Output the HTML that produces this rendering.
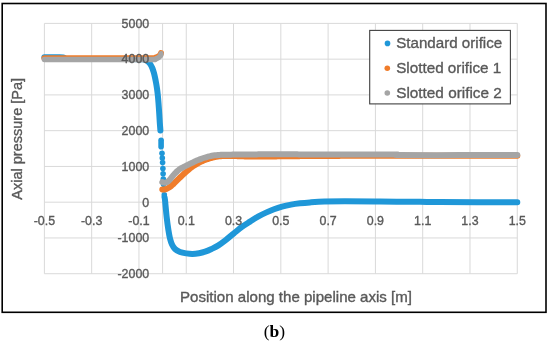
<!DOCTYPE html>
<html><head><meta charset="utf-8"><style>
html,body{margin:0;padding:0;background:#fff;}
svg{display:block;}
text{font-family:"Liberation Sans",Arial,sans-serif;}
.t{stroke:#595959;stroke-width:0.35px;}
</style></head><body>
<svg width="550" height="344" viewBox="0 0 550 344">
<rect x="0" y="0" width="550" height="344" fill="#fff"/>
<rect x="2.2" y="3.5" width="543.8" height="308.8" fill="#fff" stroke="#000" stroke-width="1.6"/>
<g stroke="#d9d9d9" stroke-width="1">
<line x1="44.38" y1="23.40" x2="44.38" y2="273.72"/>
<line x1="91.67" y1="23.40" x2="91.67" y2="273.72"/>
<line x1="138.96" y1="23.40" x2="138.96" y2="273.72"/>
<line x1="186.25" y1="23.40" x2="186.25" y2="273.72"/>
<line x1="233.53" y1="23.40" x2="233.53" y2="273.72"/>
<line x1="280.82" y1="23.40" x2="280.82" y2="273.72"/>
<line x1="328.12" y1="23.40" x2="328.12" y2="273.72"/>
<line x1="375.41" y1="23.40" x2="375.41" y2="273.72"/>
<line x1="422.70" y1="23.40" x2="422.70" y2="273.72"/>
<line x1="469.99" y1="23.40" x2="469.99" y2="273.72"/>
<line x1="517.27" y1="23.40" x2="517.27" y2="273.72"/>
<line x1="44.38" y1="23.40" x2="517.27" y2="23.40"/>
<line x1="44.38" y1="59.16" x2="517.27" y2="59.16"/>
<line x1="44.38" y1="94.92" x2="517.27" y2="94.92"/>
<line x1="44.38" y1="130.68" x2="517.27" y2="130.68"/>
<line x1="44.38" y1="166.44" x2="517.27" y2="166.44"/>
<line x1="44.38" y1="202.20" x2="517.27" y2="202.20"/>
<line x1="44.38" y1="237.96" x2="517.27" y2="237.96"/>
<line x1="44.38" y1="273.72" x2="517.27" y2="273.72"/>
<line x1="162.60" y1="23.40" x2="162.60" y2="273.72"/>
</g>
<g>
<path d="M44.38 57.30 C46.35 57.30 53.04 57.28 56.20 57.30 C59.35 57.32 61.32 57.16 63.29 57.44 C65.26 57.72 63.29 58.71 68.02 58.98 C72.75 59.25 81.81 59.04 91.67 59.05 C101.52 59.06 118.86 59.03 127.13 59.05 C135.41 59.07 138.42 59.07 141.32 59.16 C144.21 59.25 143.64 59.38 144.50 59.60 C145.36 59.82 145.82 60.08 146.50 60.50 C147.18 60.92 147.93 61.43 148.60 62.10 C149.27 62.77 149.88 63.52 150.50 64.50 C151.12 65.48 151.77 66.72 152.30 68.00 C152.83 69.28 153.27 70.70 153.70 72.20 C154.13 73.70 154.52 75.28 154.90 77.00 C155.28 78.72 155.65 80.58 156.00 82.50 C156.35 84.42 156.70 86.42 157.00 88.50 C157.30 90.58 157.55 92.58 157.80 95.00 C158.05 97.42 158.27 100.00 158.50 103.00 C158.73 106.00 158.98 109.72 159.20 113.00 C159.42 116.28 159.60 119.78 159.80 122.70 C160.00 125.62 160.30 129.20 160.40 130.50" fill="none" stroke="#1f97d8" stroke-width="6.00" stroke-linecap="round" stroke-linejoin="round"/>
<path d="M164.50 197.00 C164.58 197.50 164.63 196.60 165.00 200.00 C165.37 203.40 166.13 212.40 166.70 217.40 C167.27 222.40 167.85 226.48 168.40 230.00 C168.95 233.52 169.40 236.08 170.00 238.50 C170.60 240.92 171.17 242.75 172.00 244.50 C172.83 246.25 173.67 247.75 175.00 249.00 C176.33 250.25 178.10 251.27 180.00 252.00 C181.90 252.73 184.32 253.08 186.40 253.40 C188.48 253.72 190.40 253.93 192.50 253.90 C194.60 253.87 196.90 253.57 199.00 253.20 C201.10 252.83 203.02 252.40 205.10 251.70 C207.18 251.00 209.35 250.02 211.50 249.00 C213.65 247.98 215.58 247.13 218.00 245.60 C220.42 244.07 223.35 241.85 226.00 239.80 C228.65 237.75 231.23 235.47 233.90 233.30 C236.57 231.13 239.32 228.75 242.00 226.80 C244.68 224.85 247.33 223.30 250.00 221.60 C252.67 219.90 255.33 218.10 258.00 216.60 C260.67 215.10 263.33 213.83 266.00 212.60 C268.67 211.37 271.33 210.20 274.00 209.20 C276.67 208.20 279.17 207.37 282.00 206.60 C284.83 205.83 288.00 205.15 291.00 204.60 C294.00 204.05 296.83 203.67 300.00 203.30 C303.17 202.93 305.92 202.68 310.00 202.40 C314.08 202.12 318.67 201.78 324.50 201.60 C330.33 201.42 335.75 201.30 345.00 201.30 C354.25 201.30 367.50 201.52 380.00 201.60 C392.50 201.68 410.00 201.72 420.00 201.80 C430.00 201.88 423.78 202.03 440.00 202.10 C456.22 202.17 504.42 202.18 517.30 202.20" fill="none" stroke="#1f97d8" stroke-width="6.00" stroke-linecap="round" stroke-linejoin="round"/>
<line x1="161.10" y1="140.35" x2="161.10" y2="146.65" stroke="#1f97d8" stroke-width="5.6" stroke-linecap="round"/>
<line x1="162.00" y1="153.30" x2="162.00" y2="153.30" stroke="#1f97d8" stroke-width="5.6" stroke-linecap="round"/>
<line x1="162.30" y1="158.00" x2="162.30" y2="158.00" stroke="#1f97d8" stroke-width="5.6" stroke-linecap="round"/>
<line x1="162.60" y1="162.60" x2="162.60" y2="162.60" stroke="#1f97d8" stroke-width="5.6" stroke-linecap="round"/>
<line x1="162.90" y1="168.60" x2="162.90" y2="168.60" stroke="#1f97d8" stroke-width="5.6" stroke-linecap="round"/>
<line x1="163.10" y1="173.80" x2="163.10" y2="173.80" stroke="#1f97d8" stroke-width="5.6" stroke-linecap="round"/>
<line x1="163.30" y1="179.10" x2="163.30" y2="179.10" stroke="#1f97d8" stroke-width="5.6" stroke-linecap="round"/>
<line x1="163.60" y1="184.30" x2="163.60" y2="184.30" stroke="#1f97d8" stroke-width="5.6" stroke-linecap="round"/>
<line x1="163.90" y1="189.50" x2="163.90" y2="189.50" stroke="#1f97d8" stroke-width="5.6" stroke-linecap="round"/>
<line x1="164.30" y1="194.70" x2="164.30" y2="194.70" stroke="#1f97d8" stroke-width="5.6" stroke-linecap="round"/>
<path d="M44.38 58.37 C56.20 58.37 97.38 58.37 115.31 58.37 C133.24 58.37 145.46 58.41 151.96 58.37 C158.46 58.34 153.54 58.33 154.32 58.16 C155.11 57.99 155.98 57.68 156.69 57.37 C157.40 57.06 158.07 56.63 158.58 56.30 C159.09 55.97 159.45 55.73 159.76 55.41 C160.08 55.08 160.27 54.71 160.47 54.33 C160.67 53.96 160.87 53.35 160.94 53.15" fill="none" stroke="#f07c2a" stroke-width="6.00" stroke-linecap="round" stroke-linejoin="round"/>
<path d="M162.30 189.40 C162.55 189.41 163.30 189.52 163.80 189.50 C164.30 189.48 164.80 189.39 165.30 189.27 C165.80 189.15 166.30 188.97 166.80 188.75 C167.30 188.54 167.80 188.27 168.30 187.98 C168.80 187.68 169.30 187.35 169.80 186.99 C170.30 186.63 170.80 186.24 171.30 185.83 C171.80 185.42 172.30 184.98 172.80 184.53 C173.30 184.08 173.80 183.60 174.30 183.13 C174.80 182.65 175.30 182.16 175.80 181.66 C176.30 181.17 176.80 180.68 177.30 180.18 C177.80 179.69 178.30 179.19 178.80 178.71 C179.30 178.22 179.80 177.73 180.30 177.24 C180.80 176.76 181.30 176.28 181.80 175.80 C182.30 175.33 182.80 174.86 183.30 174.39 C183.80 173.92 184.30 173.46 184.80 173.01 C185.30 172.56 185.80 172.11 186.30 171.68 C186.80 171.24 187.30 170.81 187.80 170.39 C188.30 169.97 188.80 169.55 189.30 169.15 C189.80 168.75 190.30 168.36 190.80 167.98 C191.30 167.60 191.80 167.23 192.30 166.88 C192.80 166.52 193.30 166.18 193.80 165.84 C194.30 165.51 194.80 165.18 195.30 164.87 C195.80 164.56 196.30 164.26 196.80 163.97 C197.30 163.67 197.80 163.39 198.30 163.12 C198.80 162.85 199.30 162.58 199.80 162.33 C200.30 162.08 200.80 161.83 201.30 161.60 C201.80 161.36 202.30 161.13 202.80 160.91 C203.30 160.69 203.80 160.48 204.30 160.28 C204.80 160.07 205.30 159.88 205.80 159.69 C206.30 159.50 206.80 159.32 207.30 159.14 C207.80 158.96 208.30 158.80 208.80 158.63 C209.30 158.47 209.80 158.31 210.30 158.17 C210.80 158.02 211.30 157.88 211.80 157.74 C212.30 157.61 212.80 157.48 213.30 157.36 C213.80 157.24 214.30 157.13 214.80 157.02 C215.30 156.92 215.80 156.82 216.30 156.74 C216.80 156.65 217.30 156.57 217.80 156.50 C218.30 156.42 218.80 156.36 219.30 156.31 C219.80 156.25 220.30 156.21 220.80 156.17 C221.30 156.13 221.80 156.10 222.30 156.07 C222.80 156.05 223.30 156.03 223.80 156.01 C224.30 155.99 224.80 155.98 225.30 155.98 C225.80 155.97 226.30 155.96 226.80 155.96 C227.30 155.96 227.80 155.96 228.30 155.96 C228.80 155.96 229.30 155.96 229.80 155.96 C230.30 155.97 230.80 155.98 231.30 155.98 C231.80 155.99 232.30 156.00 232.80 156.01 C233.30 156.02 233.80 156.03 234.30 156.05 C234.80 156.06 235.30 156.07 235.80 156.09 C236.30 156.10 236.80 156.12 237.30 156.13 C237.80 156.15 238.30 156.17 238.80 156.18 C239.30 156.20 239.80 156.22 240.30 156.24 C240.80 156.25 241.30 156.27 241.80 156.29 C242.30 156.31 242.80 156.32 243.30 156.34 C243.80 156.36 244.30 156.38 244.80 156.39 C245.30 156.41 245.80 156.42 246.30 156.44 C246.80 156.45 247.30 156.47 247.80 156.48 C248.30 156.49 248.80 156.51 249.30 156.52 C249.80 156.53 250.30 156.54 250.80 156.55 C251.30 156.56 251.80 156.56 252.30 156.57 C252.80 156.58 253.30 156.58 253.80 156.58 C254.30 156.59 254.80 156.59 255.30 156.59 C255.80 156.59 256.30 156.59 256.80 156.59 C257.30 156.59 257.80 156.59 258.30 156.59 C258.80 156.59 259.30 156.59 259.80 156.59 C260.30 156.58 260.80 156.58 261.30 156.57 C261.80 156.57 262.30 156.57 262.80 156.56 C263.30 156.55 263.80 156.55 264.30 156.54 C264.80 156.54 265.30 156.53 265.80 156.52 C266.30 156.52 266.80 156.51 267.30 156.50 C267.80 156.50 268.30 156.49 268.80 156.48 C269.30 156.48 269.80 156.47 270.30 156.46 C270.80 156.46 271.30 156.45 271.80 156.44 C272.30 156.44 272.80 156.43 273.30 156.42 C273.80 156.42 274.30 156.41 274.80 156.40 C275.30 156.40 275.80 156.39 276.30 156.38 C276.80 156.38 277.30 156.37 277.80 156.36 C278.30 156.36 278.80 156.35 279.30 156.35 C279.80 156.34 280.30 156.33 280.80 156.33 C281.30 156.32 281.80 156.32 282.30 156.31 C282.80 156.30 283.30 156.30 283.80 156.29 C284.30 156.29 284.80 156.28 285.30 156.28 C285.80 156.27 286.30 156.26 286.80 156.26 C287.30 156.25 287.80 156.25 288.30 156.24 C288.80 156.24 289.30 156.23 289.80 156.23 C290.30 156.22 290.80 156.22 291.30 156.21 C291.80 156.21 292.30 156.20 292.80 156.20 C293.30 156.19 293.80 156.19 294.30 156.18 C294.80 156.18 295.30 156.17 295.80 156.17 C296.30 156.16 296.80 156.16 297.30 156.15 C297.80 156.15 298.30 156.14 298.80 156.14 C299.30 156.13 299.80 156.13 300.30 156.12 C300.80 156.12 301.30 156.12 301.80 156.11 C302.30 156.11 302.80 156.10 303.30 156.10 C303.80 156.09 304.30 156.09 304.80 156.09 C305.30 156.08 305.80 156.08 306.30 156.07 C306.80 156.07 307.30 156.07 307.80 156.06 C308.30 156.06 308.80 156.05 309.30 156.05 C309.80 156.05 310.30 156.04 310.80 156.04 C311.30 156.04 311.80 156.03 312.30 156.03 C312.80 156.02 313.30 156.02 313.80 156.02 C314.30 156.01 314.80 156.01 315.30 156.01 C315.80 156.00 316.30 156.00 316.80 156.00 C317.30 155.99 317.80 155.99 318.30 155.99 C318.80 155.98 319.30 155.98 319.80 155.98 C320.30 155.98 320.80 155.97 321.30 155.97 C321.80 155.97 322.30 155.96 322.80 155.96 C323.30 155.96 323.80 155.95 324.30 155.95 C324.80 155.95 325.30 155.95 325.80 155.94 C326.30 155.94 326.80 155.94 327.30 155.94 C327.80 155.93 328.30 155.93 328.80 155.93 C329.30 155.92 329.80 155.92 330.30 155.92 C330.80 155.92 331.30 155.91 331.80 155.91 C332.30 155.91 332.80 155.91 333.30 155.91 C333.80 155.90 334.30 155.90 334.80 155.90 C335.30 155.90 335.80 155.89 336.30 155.89 C336.80 155.89 337.30 155.89 337.80 155.89 C338.30 155.88 338.80 155.88 339.30 155.88 C339.80 155.88 340.30 155.88 340.80 155.87 C341.30 155.87 341.80 155.87 342.30 155.87 C342.80 155.87 343.30 155.86 343.80 155.86 C344.30 155.86 344.80 155.86 345.30 155.86 C345.80 155.86 346.30 155.85 346.80 155.85 C347.30 155.85 347.80 155.85 348.30 155.85 C348.80 155.85 349.30 155.85 349.80 155.84 C350.30 155.84 350.80 155.84 351.30 155.84 C351.80 155.84 352.30 155.84 352.80 155.84 C353.30 155.83 353.80 155.83 354.30 155.83 C354.80 155.83 355.30 155.83 355.80 155.83 C356.30 155.83 356.80 155.83 357.30 155.82 C357.80 155.82 358.30 155.82 358.80 155.82 C359.30 155.82 359.80 155.82 360.30 155.82 C360.80 155.82 361.30 155.82 361.80 155.81 C362.30 155.81 362.80 155.81 363.30 155.81 C363.80 155.81 364.30 155.81 364.80 155.81 C365.30 155.81 365.80 155.81 366.30 155.81 C366.80 155.81 367.30 155.81 367.80 155.81 C368.30 155.80 368.80 155.80 369.30 155.80 C369.80 155.80 370.30 155.80 370.80 155.80 C371.30 155.80 371.80 155.80 372.30 155.80 C372.80 155.80 373.30 155.80 373.80 155.80 C374.30 155.80 374.80 155.80 375.30 155.80 C375.80 155.80 376.30 155.80 376.80 155.80 C377.30 155.79 377.80 155.79 378.30 155.79 C378.80 155.79 379.30 155.79 379.80 155.79 C380.30 155.79 380.80 155.79 381.30 155.79 C381.80 155.79 382.30 155.79 382.80 155.79 C383.30 155.79 383.80 155.79 384.30 155.79 C384.80 155.79 385.30 155.79 385.80 155.79 C386.30 155.79 386.80 155.79 387.30 155.79 C387.80 155.79 388.30 155.79 388.80 155.79 C389.30 155.79 389.80 155.79 390.30 155.79 C390.80 155.79 391.30 155.79 391.80 155.79 C392.30 155.79 392.80 155.79 393.30 155.79 C393.80 155.79 394.30 155.79 394.80 155.79 C395.30 155.79 395.80 155.79 396.30 155.79 C396.80 155.79 397.30 155.79 397.80 155.79 C398.30 155.79 398.80 155.79 399.30 155.79 C399.80 155.79 400.30 155.79 400.80 155.79 C401.30 155.79 401.80 155.79 402.30 155.79 C402.80 155.79 403.30 155.79 403.80 155.79 C404.30 155.79 404.80 155.79 405.30 155.79 C405.80 155.79 406.30 155.79 406.80 155.79 C407.30 155.79 407.80 155.79 408.30 155.79 C408.80 155.80 409.30 155.80 409.80 155.80 C410.30 155.80 410.80 155.80 411.30 155.80 C411.80 155.80 412.30 155.80 412.80 155.80 C413.30 155.80 413.80 155.80 414.30 155.80 C414.80 155.80 415.30 155.80 415.80 155.80 C416.30 155.80 416.80 155.80 417.30 155.80 C417.80 155.80 418.30 155.80 418.80 155.80 C419.30 155.80 419.80 155.80 420.30 155.80 C420.80 155.80 421.30 155.80 421.80 155.81 C422.30 155.81 422.80 155.81 423.30 155.81 C423.80 155.81 424.30 155.81 424.80 155.81 C425.30 155.81 425.80 155.81 426.30 155.81 C426.80 155.81 427.30 155.81 427.80 155.81 C428.30 155.81 428.80 155.81 429.30 155.81 C429.80 155.81 430.30 155.81 430.80 155.81 C431.30 155.81 431.80 155.81 432.30 155.81 C432.80 155.82 433.30 155.82 433.80 155.82 C434.30 155.82 434.80 155.82 435.30 155.82 C435.80 155.82 436.30 155.82 436.80 155.82 C437.30 155.82 437.80 155.82 438.30 155.82 C438.80 155.82 439.30 155.82 439.80 155.82 C440.30 155.82 440.80 155.82 441.30 155.82 C441.80 155.82 442.30 155.82 442.80 155.82 C443.30 155.83 443.80 155.83 444.30 155.83 C444.80 155.83 445.30 155.83 445.80 155.83 C446.30 155.83 446.80 155.83 447.30 155.83 C447.80 155.83 448.30 155.83 448.80 155.83 C449.30 155.83 449.80 155.83 450.30 155.83 C450.80 155.83 451.30 155.83 451.80 155.83 C452.30 155.83 452.80 155.83 453.30 155.83 C453.80 155.83 454.30 155.83 454.80 155.83 C455.30 155.83 455.80 155.84 456.30 155.84 C456.80 155.84 457.30 155.84 457.80 155.84 C458.30 155.84 458.80 155.84 459.30 155.84 C459.80 155.84 460.30 155.84 460.80 155.84 C461.30 155.84 461.80 155.84 462.30 155.84 C462.80 155.84 463.30 155.84 463.80 155.84 C464.30 155.84 464.80 155.84 465.30 155.84 C465.80 155.84 466.30 155.84 466.80 155.84 C467.30 155.84 467.80 155.84 468.30 155.84 C468.80 155.84 469.30 155.84 469.80 155.84 C470.30 155.84 470.80 155.84 471.30 155.84 C471.80 155.84 472.30 155.84 472.80 155.84 C473.30 155.84 473.80 155.84 474.30 155.84 C474.80 155.84 475.30 155.84 475.80 155.84 C476.30 155.84 476.80 155.84 477.30 155.84 C477.80 155.84 478.30 155.84 478.80 155.84 C479.30 155.84 479.80 155.84 480.30 155.84 C480.80 155.84 481.30 155.84 481.80 155.84 C482.30 155.84 482.80 155.84 483.30 155.84 C483.80 155.84 484.30 155.84 484.80 155.84 C485.30 155.84 485.80 155.84 486.30 155.84 C486.80 155.84 487.30 155.84 487.80 155.84 C488.30 155.84 488.80 155.84 489.30 155.84 C489.80 155.84 490.30 155.84 490.80 155.84 C491.30 155.84 491.80 155.83 492.30 155.83 C492.80 155.83 493.30 155.83 493.80 155.83 C494.30 155.83 494.80 155.83 495.30 155.83 C495.80 155.83 496.30 155.83 496.80 155.83 C497.30 155.83 497.80 155.83 498.30 155.83 C498.80 155.83 499.30 155.83 499.80 155.82 C500.30 155.82 500.80 155.82 501.30 155.82 C501.80 155.82 502.30 155.82 502.80 155.82 C503.30 155.82 503.80 155.82 504.30 155.82 C504.80 155.82 505.30 155.82 505.80 155.81 C506.30 155.81 506.80 155.81 507.30 155.81 C507.80 155.81 508.30 155.81 508.80 155.81 C509.30 155.81 509.80 155.81 510.30 155.80 C510.80 155.80 511.30 155.80 511.80 155.80 C512.30 155.80 512.80 155.80 513.30 155.80 C513.80 155.80 514.30 155.79 514.80 155.79 C515.30 155.79 515.88 155.79 516.30 155.79 C516.72 155.79 517.13 155.79 517.30 155.79" fill="none" stroke="#f07c2a" stroke-width="6.00" stroke-linecap="round" stroke-linejoin="round"/>
<path d="M44.38 59.52 C56.20 59.52 97.38 59.52 115.31 59.52 C133.24 59.52 145.46 59.55 151.96 59.52 C158.46 59.48 153.54 59.47 154.32 59.30 C155.11 59.14 155.98 58.83 156.69 58.52 C157.40 58.21 158.07 57.78 158.58 57.44 C159.09 57.10 159.43 56.78 159.76 56.48 C160.10 56.18 160.41 55.95 160.59 55.66 C160.77 55.36 160.77 55.00 160.83 54.69 C160.89 54.38 160.93 53.94 160.94 53.80" fill="none" stroke="#a5a5a5" stroke-width="5.40" stroke-linecap="round" stroke-linejoin="round"/><path d="M162.30 182.07 C162.55 182.17 163.30 182.57 163.80 182.68 C164.30 182.79 164.80 182.80 165.30 182.72 C165.80 182.65 166.30 182.47 166.80 182.21 C167.30 181.95 167.80 181.59 168.30 181.17 C168.80 180.74 169.30 180.20 169.80 179.65 C170.30 179.09 170.80 178.46 171.30 177.84 C171.80 177.22 172.30 176.55 172.80 175.93 C173.30 175.30 173.80 174.68 174.30 174.11 C174.80 173.54 175.30 173.01 175.80 172.51 C176.30 172.01 176.80 171.56 177.30 171.13 C177.80 170.70 178.30 170.30 178.80 169.92 C179.30 169.55 179.80 169.20 180.30 168.87 C180.80 168.54 181.30 168.24 181.80 167.94 C182.30 167.65 182.80 167.37 183.30 167.10 C183.80 166.83 184.30 166.58 184.80 166.32 C185.30 166.07 185.80 165.82 186.30 165.57 C186.80 165.32 187.30 165.08 187.80 164.83 C188.30 164.58 188.80 164.34 189.30 164.09 C189.80 163.85 190.30 163.60 190.80 163.36 C191.30 163.12 191.80 162.88 192.30 162.65 C192.80 162.41 193.30 162.18 193.80 161.95 C194.30 161.72 194.80 161.49 195.30 161.27 C195.80 161.05 196.30 160.83 196.80 160.61 C197.30 160.40 197.80 160.19 198.30 159.98 C198.80 159.78 199.30 159.58 199.80 159.38 C200.30 159.18 200.80 158.99 201.30 158.81 C201.80 158.62 202.30 158.44 202.80 158.27 C203.30 158.09 203.80 157.92 204.30 157.76 C204.80 157.60 205.30 157.44 205.80 157.29 C206.30 157.14 206.80 156.99 207.30 156.85 C207.80 156.72 208.30 156.59 208.80 156.46 C209.30 156.34 209.80 156.22 210.30 156.11 C210.80 156.00 211.30 155.90 211.80 155.80 C212.30 155.71 212.80 155.62 213.30 155.54 C213.80 155.46 214.30 155.39 214.80 155.33 C215.30 155.27 215.80 155.21 216.30 155.16 C216.80 155.11 217.30 155.07 217.80 155.03 C218.30 154.99 218.80 154.96 219.30 154.93 C219.80 154.90 220.30 154.87 220.80 154.85 C221.30 154.83 221.80 154.81 222.30 154.80 C222.80 154.78 223.30 154.77 223.80 154.76 C224.30 154.75 224.80 154.74 225.30 154.73 C225.80 154.72 226.30 154.71 226.80 154.70 C227.30 154.69 227.80 154.69 228.30 154.68 C228.80 154.67 229.30 154.66 229.80 154.65 C230.30 154.65 230.80 154.64 231.30 154.63 C231.80 154.62 232.30 154.62 232.80 154.61 C233.30 154.60 233.80 154.60 234.30 154.59 C234.80 154.58 235.30 154.58 235.80 154.57 C236.30 154.56 236.80 154.56 237.30 154.55 C237.80 154.54 238.30 154.54 238.80 154.53 C239.30 154.53 239.80 154.52 240.30 154.51 C240.80 154.51 241.30 154.50 241.80 154.50 C242.30 154.49 242.80 154.49 243.30 154.48 C243.80 154.48 244.30 154.47 244.80 154.47 C245.30 154.46 245.80 154.46 246.30 154.45 C246.80 154.45 247.30 154.45 247.80 154.44 C248.30 154.44 248.80 154.43 249.30 154.43 C249.80 154.43 250.30 154.42 250.80 154.42 C251.30 154.42 251.80 154.41 252.30 154.41 C252.80 154.40 253.30 154.40 253.80 154.40 C254.30 154.40 254.80 154.39 255.30 154.39 C255.80 154.39 256.30 154.38 256.80 154.38 C257.30 154.38 257.80 154.38 258.30 154.37 C258.80 154.37 259.30 154.37 259.80 154.37 C260.30 154.36 260.80 154.36 261.30 154.36 C261.80 154.36 262.30 154.36 262.80 154.35 C263.30 154.35 263.80 154.35 264.30 154.35 C264.80 154.35 265.30 154.35 265.80 154.35 C266.30 154.34 266.80 154.34 267.30 154.34 C267.80 154.34 268.30 154.34 268.80 154.34 C269.30 154.34 269.80 154.34 270.30 154.34 C270.80 154.34 271.30 154.34 271.80 154.33 C272.30 154.33 272.80 154.33 273.30 154.33 C273.80 154.33 274.30 154.33 274.80 154.33 C275.30 154.33 275.80 154.33 276.30 154.33 C276.80 154.33 277.30 154.33 277.80 154.33 C278.30 154.33 278.80 154.33 279.30 154.33 C279.80 154.33 280.30 154.33 280.80 154.33 C281.30 154.33 281.80 154.33 282.30 154.33 C282.80 154.34 283.30 154.34 283.80 154.34 C284.30 154.34 284.80 154.34 285.30 154.34 C285.80 154.34 286.30 154.34 286.80 154.34 C287.30 154.34 287.80 154.34 288.30 154.34 C288.80 154.35 289.30 154.35 289.80 154.35 C290.30 154.35 290.80 154.35 291.30 154.35 C291.80 154.35 292.30 154.35 292.80 154.36 C293.30 154.36 293.80 154.36 294.30 154.36 C294.80 154.36 295.30 154.36 295.80 154.37 C296.30 154.37 296.80 154.37 297.30 154.37 C297.80 154.37 298.30 154.37 298.80 154.38 C299.30 154.38 299.80 154.38 300.30 154.38 C300.80 154.38 301.30 154.38 301.80 154.39 C302.30 154.39 302.80 154.39 303.30 154.39 C303.80 154.39 304.30 154.40 304.80 154.40 C305.30 154.40 305.80 154.40 306.30 154.41 C306.80 154.41 307.30 154.41 307.80 154.41 C308.30 154.41 308.80 154.42 309.30 154.42 C309.80 154.42 310.30 154.42 310.80 154.43 C311.30 154.43 311.80 154.43 312.30 154.43 C312.80 154.43 313.30 154.44 313.80 154.44 C314.30 154.44 314.80 154.44 315.30 154.45 C315.80 154.45 316.30 154.45 316.80 154.45 C317.30 154.46 317.80 154.46 318.30 154.46 C318.80 154.46 319.30 154.46 319.80 154.47 C320.30 154.47 320.80 154.47 321.30 154.47 C321.80 154.48 322.30 154.48 322.80 154.48 C323.30 154.48 323.80 154.49 324.30 154.49 C324.80 154.49 325.30 154.49 325.80 154.50 C326.30 154.50 326.80 154.50 327.30 154.50 C327.80 154.51 328.30 154.51 328.80 154.51 C329.30 154.51 329.80 154.51 330.30 154.52 C330.80 154.52 331.30 154.52 331.80 154.52 C332.30 154.53 332.80 154.53 333.30 154.53 C333.80 154.53 334.30 154.53 334.80 154.54 C335.30 154.54 335.80 154.54 336.30 154.54 C336.80 154.55 337.30 154.55 337.80 154.55 C338.30 154.55 338.80 154.55 339.30 154.56 C339.80 154.56 340.30 154.56 340.80 154.56 C341.30 154.56 341.80 154.57 342.30 154.57 C342.80 154.57 343.30 154.57 343.80 154.57 C344.30 154.57 344.80 154.58 345.30 154.58 C345.80 154.58 346.30 154.58 346.80 154.58 C347.30 154.58 347.80 154.59 348.30 154.59 C348.80 154.59 349.30 154.59 349.80 154.59 C350.30 154.59 350.80 154.59 351.30 154.60 C351.80 154.60 352.30 154.60 352.80 154.60 C353.30 154.60 353.80 154.60 354.30 154.60 C354.80 154.60 355.30 154.60 355.80 154.61 C356.30 154.61 356.80 154.61 357.30 154.61 C357.80 154.61 358.30 154.61 358.80 154.61 C359.30 154.61 359.80 154.61 360.30 154.61 C360.80 154.61 361.30 154.61 361.80 154.61 C362.30 154.61 362.80 154.61 363.30 154.61 C363.80 154.61 364.30 154.61 364.80 154.61 C365.30 154.61 365.80 154.61 366.30 154.61 C366.80 154.61 367.30 154.61 367.80 154.61 C368.30 154.61 368.80 154.61 369.30 154.61 C369.80 154.61 370.30 154.61 370.80 154.61 C371.30 154.61 371.80 154.61 372.30 154.61 C372.80 154.61 373.30 154.61 373.80 154.61 C374.30 154.61 374.80 154.60 375.30 154.60 C375.80 154.60 376.30 154.60 376.80 154.60 C377.30 154.60 377.80 154.60 378.30 154.59 C378.80 154.59 379.30 154.59 379.80 154.59 C380.30 154.59 380.80 154.59 381.30 154.58 C381.80 154.58 382.30 154.58 382.80 154.58 C383.30 154.57 383.80 154.57 384.30 154.57 C384.80 154.57 385.30 154.56 385.80 154.56 C386.30 154.56 386.80 154.56 387.30 154.55 C387.80 154.55 388.30 154.55 388.80 154.54 C389.30 154.54 389.80 154.54 390.30 154.53 C390.80 154.53 391.30 154.53 391.80 154.52 C392.30 154.52 392.80 154.52 393.30 154.51 C393.80 154.51 394.30 154.50 394.80 154.50 C395.30 154.50 395.85 154.49 396.30 154.49 C396.75 154.48 396.97 154.37 397.50 154.48 C398.03 154.58 389.08 155.00 399.50 155.10 C409.92 155.20 440.37 155.13 460.00 155.10 C479.63 155.07 507.75 154.93 517.30 154.90" fill="none" stroke="#a5a5a5" stroke-width="6.00" stroke-linecap="round" stroke-linejoin="round"/>
</g>
<g class="t" fill="#595959" font-size="12.4">
<text x="149.2" y="27.70" text-anchor="end">5000</text>
<text x="149.2" y="63.46" text-anchor="end">4000</text>
<text x="149.2" y="99.22" text-anchor="end">3000</text>
<text x="149.2" y="134.98" text-anchor="end">2000</text>
<text x="149.2" y="170.74" text-anchor="end">1000</text>
<text x="149.2" y="206.50" text-anchor="end">0</text>
<text x="149.2" y="242.26" text-anchor="end">-1000</text>
<text x="149.2" y="278.02" text-anchor="end">-2000</text>
<text x="44.38" y="224.6" text-anchor="middle">-0.5</text>
<text x="91.67" y="224.6" text-anchor="middle">-0.3</text>
<text x="138.96" y="224.6" text-anchor="middle">-0.1</text>
<text x="186.25" y="224.6" text-anchor="middle">0.1</text>
<text x="233.53" y="224.6" text-anchor="middle">0.3</text>
<text x="280.82" y="224.6" text-anchor="middle">0.5</text>
<text x="328.12" y="224.6" text-anchor="middle">0.7</text>
<text x="375.41" y="224.6" text-anchor="middle">0.9</text>
<text x="422.70" y="224.6" text-anchor="middle">1.1</text>
<text x="469.99" y="224.6" text-anchor="middle">1.3</text>
<text x="517.27" y="224.6" text-anchor="middle">1.5</text>
</g>
<text class="t" x="0" y="0" fill="#595959" font-size="14.6" text-anchor="middle" transform="translate(22.3 138.8) rotate(-90)" textLength="121.8" lengthAdjust="spacingAndGlyphs">Axial pressure [Pa]</text>
<text class="t" x="296" y="301.8" fill="#595959" font-size="14.6" text-anchor="middle" textLength="232" lengthAdjust="spacingAndGlyphs">Position along the pipeline axis [m]</text>
<rect x="369.7" y="30.4" width="140.7" height="73.5" fill="#fff" stroke="#404040" stroke-width="1.1"/>
<circle cx="387.5" cy="43.4" r="2.8" fill="#1f97d8"/>
<circle cx="387.3" cy="68.2" r="2.8" fill="#f07c2a"/>
<circle cx="387.3" cy="93" r="2.8" fill="#a5a5a5"/>
<g class="t" fill="#595959" font-size="15.5">
<text x="396.2" y="47.6" textLength="106" lengthAdjust="spacingAndGlyphs">Standard orifice</text>
<text x="396.2" y="73.4" textLength="105" lengthAdjust="spacingAndGlyphs">Slotted orifice 1</text>
<text x="396.2" y="97.8" textLength="105.6" lengthAdjust="spacingAndGlyphs">Slotted orifice 2</text>
</g>
<text x="274.4" y="336.8" fill="#000" font-size="17.5" text-anchor="middle" style="font-family:'Liberation Serif',serif">(<tspan font-weight="bold">b</tspan>)</text>
</svg>
</body></html>
